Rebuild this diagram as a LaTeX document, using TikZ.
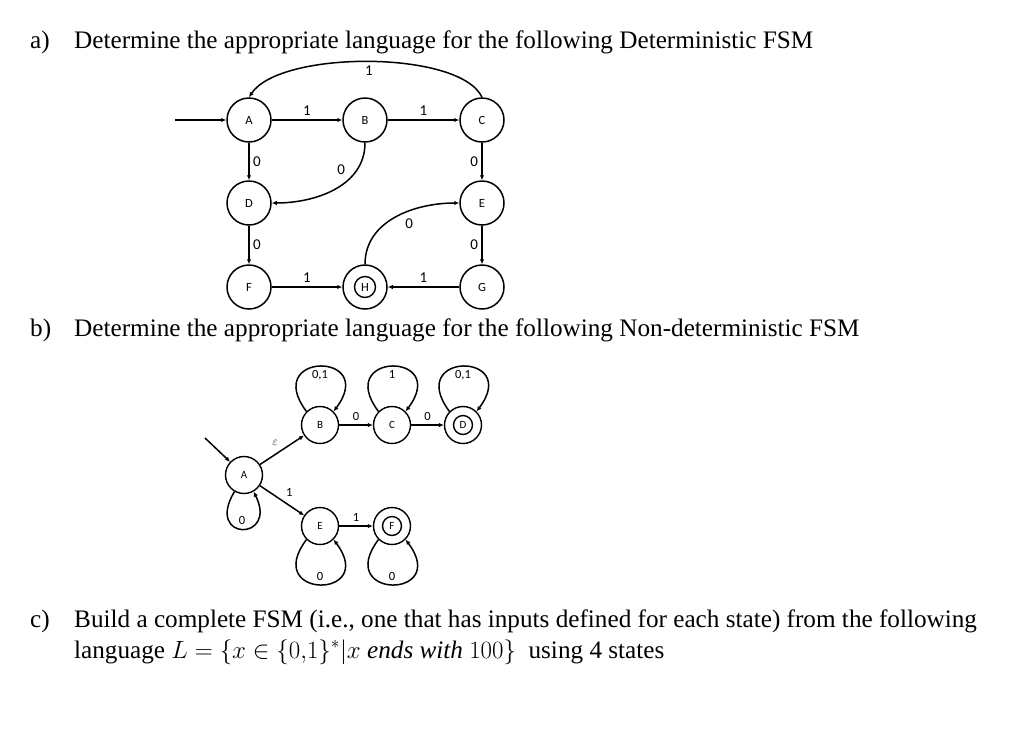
\documentclass[tikz,border=0pt]{standalone}
\usepackage{fontspec}
\setmainfont{Liberation Serif}
\newfontfamily\lbl{Carlito}
\usetikzlibrary{arrows.meta}
\begin{document}
\begin{tikzpicture}[x=1pt,y=-1pt,
  st/.style={circle,draw,line width=1.5pt,minimum size=44pt,inner sep=0pt,font=\lbl\fontsize{12.5}{12.5}\selectfont},
  inn/.style={circle,draw,line width=1.4pt,inner sep=0pt},
  sb/.style={circle,draw,line width=1.4pt,minimum size=37pt,inner sep=0pt,font=\lbl\fontsize{11}{11}\selectfont},
  ed/.style={line width=1.5pt,-{Latex[length=5pt,width=4.5pt]}},
  lab/.style={font=\lbl\fontsize{15}{15}\selectfont},
  labb/.style={font=\lbl\fontsize{12.5}{12.5}\selectfont},
  txt/.style={anchor=base west,inner sep=0pt,font=\fontsize{25.2}{28}\selectfont}]
\useasboundingbox (0,0) rectangle (1024,742);
\node[txt] (ta0) at (30,48) {a)};
\node[txt] (ta) at (74,48) {Determine the appropriate language for the following Deterministic FSM};
\node[txt] (tb0) at (30,336) {b)};
\node[txt] (tb) at (74,336) {Determine the appropriate language for the following Non-deterministic FSM};
\node[txt] (tc0) at (30,627) {c)};
\node[txt] (tc1) at (74,627) {Build a complete FSM (i.e., one that has inputs defined for each state) from the following};
\node[txt] (tc2) at (74,658) {language $L=\{x\in\{0{,}1\}^{*}|x\ \mathit{ends\ with}\ 100\}$\ \ using 4 states};
% part a
\node[st] (A) at (249,120) {A};
\node[st] (B) at (365,120) {B};
\node[st] (C) at (482,120) {C};
\node[st] (D) at (249,203) {D};
\node[st] (E) at (482,203) {E};
\node[st] (F) at (249,287) {F};
\node[st] (H) at (365,287) {};
\node[inn,minimum size=21pt,font=\lbl\fontsize{12.5}{12.5}\selectfont] (Hi) at (H) {H};
\node[st] (G) at (482,287) {G};
\coordinate (s0) at (175,120);
\draw[ed] (s0) -- (A);
\draw[ed] (A) -- node[lab,above]{1} (B);
\draw[ed] (B) -- node[lab,above]{1} (C);
\draw[ed] (C.north) .. controls (460,50) and (280,50) .. node[lab,below,pos=0.5]{1} (A.north);
\draw[ed] (A) -- node[lab,right]{0} (D);
\draw[ed] (B.south) to[out=-90,in=0] node[lab,above left,pos=0.35]{0} (D.east);
\draw[ed] (C) -- node[lab,left]{0} (E);
\draw[ed] (D) -- node[lab,right]{0} (F);
\draw[ed] (E) -- node[lab,left]{0} (G);
\draw[ed] (H.north) to[out=90,in=180] node[lab,below right,pos=0.55]{0} (E.west);
\draw[ed] (F) -- node[lab,above]{1} (H);
\draw[ed] (G) -- node[lab,above]{1} (H);
% part b
\node[sb] (bA) at (244,475) {A};
\node[sb] (bB) at (320,425) {B};
\node[sb] (bC) at (392,425) {C};
\node[sb] (bD) at (463,425) {};
\node[inn,minimum size=19pt,font=\lbl\fontsize{11}{11}\selectfont] (bDi) at (bD) {D};
\node[sb] (bE) at (320,526) {E};
\node[sb] (bF) at (392,526) {};
\node[inn,minimum size=19pt,font=\lbl\fontsize{11}{11}\selectfont] (bFi) at (bF) {F};
\coordinate (s1) at (205,438);
\draw[ed] (s1) -- (bA);
\draw[ed] (bA) -- node[labb,above left]{$\varepsilon$} (bB);
\draw[ed] (bA) -- node[labb,above right]{1} (bE);
\draw[ed] (bB) -- node[labb,above]{0} (bC);
\draw[ed] (bC) -- node[labb,above]{0} (bD);
\draw[ed] (bE) -- node[labb,above]{1} (bF);
\draw[ed] (bB.135) .. controls +(-45,-60) and +(45,-60) .. node[labb,below,pos=0.5]{0,1} (bB.45);
\draw[ed] (bC.135) .. controls +(-45,-60) and +(45,-60) .. node[labb,below,pos=0.5]{1} (bC.45);
\draw[ed] (bD.135) .. controls +(-45,-60) and +(45,-60) .. node[labb,below,pos=0.5]{0,1} (bD.45);
\draw[ed] (bA.-120) .. controls +(-30,50) and +(25,50) .. node[labb,above,pos=0.5]{0} (bA.-60);
\draw[ed] (bE.-135) .. controls +(-45,60) and +(45,60) .. node[labb,above,pos=0.5]{0} (bE.-45);
\draw[ed] (bF.-135) .. controls +(-45,60) and +(45,60) .. node[labb,above,pos=0.5]{0} (bF.-45);
\end{tikzpicture}
\end{document}
